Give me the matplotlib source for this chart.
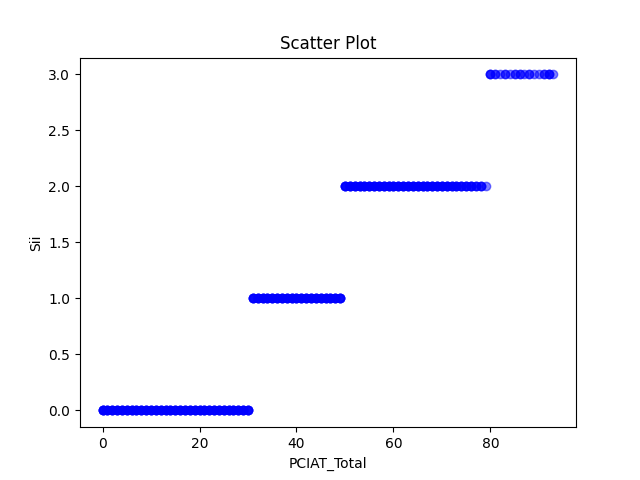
import matplotlib
matplotlib.use("Agg")
import matplotlib.pyplot as plt

# Distinct PCIAT_Total scores seen for each Sii level, with how often each appears
pciat_sii0 = [0, 1, 2, 3, 4, 5, 6, 7, 8, 9, 10, 11, 12, 13, 14, 15, 16, 17,
              18, 19, 20, 21, 22, 23, 24, 25, 26, 27, 28, 29, 30]
count_sii0 = [6, 5, 5, 5, 5, 5, 5, 5, 5, 5, 5, 5, 5, 5, 5, 5, 5, 5,
              5, 5, 5, 5, 5, 5, 5, 5, 5, 5, 5, 5, 5]
pciat_sii1 = [31, 32, 33, 34, 35, 36, 37, 38, 39, 40, 41, 42, 43, 44, 45, 46,
              47, 48, 49]
count_sii1 = [5, 5, 5, 5, 5, 5, 5, 5, 5, 5, 5, 5, 5, 5, 5, 5, 5, 5, 5]
pciat_sii2 = [50, 51, 52, 53, 54, 55, 56, 57, 58, 59, 60, 61, 62, 63, 64, 65,
              66, 67, 68, 69, 70, 71, 72, 73, 74, 75, 76, 77, 78, 79]
count_sii2 = [5, 5, 5, 5, 5, 5, 5, 5, 5, 5, 5, 5, 5, 5, 5, 5,
              5, 5, 5, 5, 5, 5, 4, 4, 4, 4, 4, 3, 3, 1]
pciat_sii3 = [80, 81, 82, 83, 84, 85, 86, 87, 88, 89, 90, 91, 92, 93]
count_sii3 = [3, 2, 1, 2, 1, 2, 2, 1, 2, 1, 1, 2, 3, 1]

pciat_total = []
sii = []
for level, xs, ns in [(0, pciat_sii0, count_sii0), (1, pciat_sii1, count_sii1),
                      (2, pciat_sii2, count_sii2), (3, pciat_sii3, count_sii3)]:
    for xv, n in zip(xs, ns):
        pciat_total += [xv] * n
        sii += [level] * n

fig, ax = plt.subplots(figsize=(6.4, 4.8), dpi=100)
ax.scatter(pciat_total, sii, c="blue", alpha=0.5)

ax.set_title("Scatter Plot")
ax.set_xlabel("PCIAT_Total")
ax.set_ylabel("Sii")

fig.savefig("out.png")
